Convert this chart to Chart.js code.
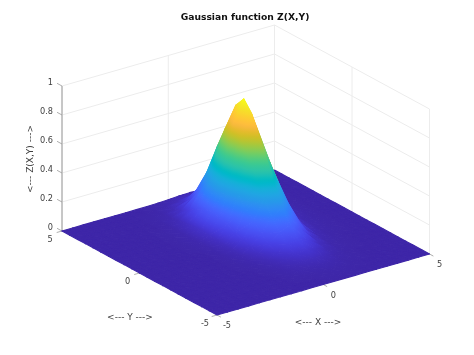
<!DOCTYPE html>
<html>
<head>
<meta charset="utf-8">
<script src="https://cdn.jsdelivr.net/npm/chart.js@4"></script>
<style>
  html, body { margin: 0; padding: 0; background: #fff; }
  canvas { display: block; }
</style>
</head>
<body>
<canvas id="grafico" width="474" height="355"></canvas>
<script>
// Values
const xValues = [-5, -4.5, -4, -3.5, -3, -2.5, -2, -1.5, -1, -0.5, 0, 0.5, 1, 1.5, 2, 2.5, 3, 3.5, 4, 4.5, 5];
const yValues = [-5, -4.5, -4, -3.5, -3, -2.5, -2, -1.5, -1, -0.5, 0, 0.5, 1, 1.5, 2, 2.5, 3, 3.5, 4, 4.5, 5];
const xTicks = [-5, 0, 5];
const yTicks = [-5, 0, 5];
const zTicks = [0, 0.2, 0.4, 0.6, 0.8, 1];

// one row per x value, one column per y value
const zValues = [
  [0,0,0,0,0,0,0,0,0,0,0,0,0,0,0,0,0,0,0,0,0],
  [0,0,0,0,0,0,0,0,0,0,0,0,0,0,0,0,0,0,0,0,0],
  [0,0,0,0,0,0,0,0,0,0,0,0,0,0,0,0,0,0,0,0,0],
  [0,0,0,0,0,0,0,0,0,0,0,0,0,0,0,0,0,0,0,0,0],
  [0,0,0,0,0,0,0,0,0,0,0,0,0,0,0,0,0,0,0,0,0],
  [0,0,0,0,0,0,0,0,0,0,0,0,0,0,0,0,0,0,0,0,0],
  [0,0,0,0,0,0,0,0,0,0,0,.001,.001,.001,.001,.001,0,0,0,0,0],
  [0,0,0,0,0,0,.001,.001,.002,.003,.004,.005,.006,.007,.006,.005,.003,.002,.001,0,0],
  [0,0,0,0,.001,.002,.004,.007,.011,.017,.023,.029,.035,.038,.035,.027,.017,.009,.004,.002,.001],
  [0,0,.001,.002,.004,.009,.016,.028,.044,.065,.089,.112,.136,.148,.136,.105,.068,.037,.017,.007,.002],
  [0,0,.001,.005,.012,.024,.044,.075,.118,.173,.236,.300,.361,.394,.361,.278,.180,.098,.045,.017,.005],
  [0,.001,.002,.008,.021,.043,.078,.134,.212,.311,.425,.538,.649,.708,.649,.500,.324,.176,.081,.031,.010],
  [0,.001,.003,.010,.026,.052,.095,.163,.258,.378,.516,.654,.789,.860,.789,.608,.394,.214,.098,.038,.012],
  [0,.001,.002,.007,.018,.036,.067,.114,.181,.265,.361,.458,.552,.602,.552,.426,.276,.150,.069,.027,.008],
  [0,0,.001,.002,.006,.013,.024,.041,.066,.098,.137,.178,.225,.258,.237,.182,.118,.064,.029,.011,.004],
  [0,0,0,.001,.001,.003,.005,.009,.015,.023,.032,.043,.058,.072,.071,.055,.035,.019,.009,.003,.001],
  [0,0,0,0,0,.001,.001,.002,.003,.005,.007,.009,.012,.015,.016,.012,.008,.004,.002,.001,0],
  [0,0,0,0,0,0,0,0,.001,.001,.002,.002,.003,.003,.003,.002,.002,.001,0,0,0],
  [0,0,0,0,0,0,0,0,0,0,0,0,0,0,0,0,0,0,0,0,0],
  [0,0,0,0,0,0,0,0,0,0,0,0,0,0,0,0,0,0,0,0,0],
  [0,0,0,0,0,0,0,0,0,0,0,0,0,0,0,0,0,0,0,0,0]
];

// parula colormap
const parula = [
  [.2422,.1504,.6603],[.2504,.1650,.7076],[.2578,.1818,.7511],[.2647,.1978,.7952],[.2706,.2147,.8364],[.2751,.2342,.8710],
  [.2783,.2559,.8991],[.2803,.2782,.9221],[.2813,.3006,.9414],[.2810,.3228,.9579],[.2795,.3447,.9717],[.2760,.3667,.9829],
  [.2699,.3892,.9906],[.2602,.4123,.9952],[.2440,.4358,.9988],[.2206,.4603,.9973],[.1963,.4847,.9892],[.1834,.5074,.9798],
  [.1786,.5289,.9682],[.1764,.5499,.9520],[.1687,.5703,.9359],[.1540,.5902,.9218],[.1460,.6091,.9079],[.1380,.6276,.8973],
  [.1248,.6459,.8883],[.1113,.6635,.8763],[.0952,.6798,.8598],[.0689,.6948,.8394],[.0297,.7082,.8163],[.0036,.7203,.7917],
  [.0067,.7312,.7660],[.0433,.7411,.7394],[.0964,.7500,.7120],[.1408,.7584,.6842],[.1717,.7670,.6554],[.1938,.7758,.6251],
  [.2161,.7843,.5923],[.2470,.7918,.5567],[.2906,.7973,.5188],[.3406,.8008,.4789],[.3909,.8029,.4354],[.4456,.8024,.3909],
  [.5044,.7993,.3480],[.5616,.7942,.3045],[.6174,.7876,.2612],[.6720,.7793,.2227],[.7242,.7698,.1910],[.7738,.7598,.1646],
  [.8203,.7498,.1535],[.8634,.7406,.1596],[.9035,.7330,.1774],[.9393,.7288,.2100],[.9728,.7298,.2394],[.9956,.7434,.2371],
  [.9970,.7659,.2199],[.9952,.7893,.2028],[.9892,.8136,.1885],[.9786,.8386,.1766],[.9676,.8639,.1643],[.9610,.8890,.1537],
  [.9597,.9135,.1423],[.9628,.9373,.1265],[.9691,.9606,.1064],[.9769,.9839,.0805]
];

const zPeak = Math.max(...zValues.flat());
const textColor = '#404040';
const gridColor = '#ececec';

// Orthographic view of the box: x=-5,y=-5,z=0 is the front corner
function proyectar(x, y, z) {
  const a = (x + 5) / 10, b = (y + 5) / 10;
  return { x: 217 + a * 212.5 - b * 155, y: 315 - a * 61 - b * 84 - z * 145 };
}

function colorEn(f) {
  const t = Math.min(1, Math.max(0, f)) * (parula.length - 1);
  const i = Math.min(parula.length - 2, Math.floor(t));
  const c = parula[i].map((v, k) => Math.round(255 * (v + (parula[i + 1][k] - v) * (t - i))));
  return `rgb(${c[0]},${c[1]},${c[2]})`;
}

// Linear gradient that follows z across one triangle of the surface
function pintura(chart, tri) {
  if (tri.paint) return tri.paint;
  const sx = chart.scales.x, sy = chart.scales.y;
  if (!sx || !sy) return colorEn(0);
  const p = tri.pts.map(q => ({ x: sx.getPixelForValue(q.x), y: sy.getPixelForValue(q.y), f: q.z / zPeak }));
  const fs = p.map(q => q.f);
  const fMin = Math.min(...fs), fMax = Math.max(...fs);
  const ax = p[1].x - p[0].x, ay = p[1].y - p[0].y, bx = p[2].x - p[0].x, by = p[2].y - p[0].y;
  const det = ax * by - ay * bx;
  // the scales have no size yet on the first pass
  if (!isFinite(det)) return colorEn(0);
  if (fMax - fMin < 0.001 || Math.abs(det) < 0.01) {
    tri.paint = colorEn((fMin + fMax) / 2);
    return tri.paint;
  }
  const d1 = p[1].f - p[0].f, d2 = p[2].f - p[0].f;
  const gx = (d1 * by - d2 * ay) / det, gy = (ax * d2 - bx * d1) / det;
  const g2 = gx * gx + gy * gy;
  const ini = p[fs.indexOf(fMin)];
  const k = (fMax - fMin) / g2;
  const grad = chart.ctx.createLinearGradient(ini.x, ini.y, ini.x + gx * k, ini.y + gy * k);
  grad.addColorStop(0, colorEn(fMin));
  for (let i = 0; i < parula.length; i++) {
    const f = i / (parula.length - 1);
    if (f > fMin && f < fMax) grad.addColorStop((f - fMin) / (fMax - fMin), colorEn(f));
  }
  grad.addColorStop(1, colorEn(fMax));
  tri.paint = grad;
  return grad;
}

function linea(a, b, color, ancho) {
  return { data: [a, b], showLine: true, fill: false, pointRadius: 0, borderColor: color, borderWidth: ancho };
}

const datasets = [];

// Back walls
zTicks.forEach(z => {
  datasets.push(linea(proyectar(-5, 5, z), proyectar(5, 5, z), gridColor, 1));
  datasets.push(linea(proyectar(5, 5, z), proyectar(5, -5, z), gridColor, 1));
});
xTicks.forEach(x => datasets.push(linea(proyectar(x, 5, 0), proyectar(x, 5, 1), gridColor, 1)));
yTicks.forEach(y => datasets.push(linea(proyectar(5, y, 0), proyectar(5, y, 1), gridColor, 1)));

// Axis and tick marks
datasets.push(linea(proyectar(-5, 5, 0), proyectar(-5, 5, 1), '#b4b4b4', 1.4));
zTicks.forEach(z => datasets.push(linea(proyectar(-5, 5, z), proyectar(-5, 5.32, z), '#999999', 0.8)));
xTicks.forEach(x => datasets.push(linea(proyectar(x, -5, 0), proyectar(x, -5.25, 0), '#999999', 0.8)));
yTicks.forEach(y => datasets.push(linea(proyectar(-5, y, 0), proyectar(-5.25, y, 0), '#999999', 0.8)));

// Surface, from the back corner to the front corner
for (let i = xValues.length - 2; i >= 0; i--) {
  for (let j = yValues.length - 2; j >= 0; j--) {
    const v = (a, b) => {
      const q = proyectar(xValues[a], yValues[b], zValues[a][b]);
      return { x: q.x, y: q.y, z: zValues[a][b] };
    };
    const tris = [[v(i + 1, j + 1), v(i + 1, j), v(i, j + 1)], [v(i + 1, j), v(i, j), v(i, j + 1)]];
    tris.forEach(pts => {
      const tri = { pts };
      datasets.push({
        data: [pts[0], pts[1], pts[2], pts[0]],
        showLine: true,
        fill: 'shape',
        pointRadius: 0,
        borderWidth: 1.1,
        borderJoinStyle: 'round',
        backgroundColor: ctx => pintura(ctx.chart, tri),
        borderColor: ctx => pintura(ctx.chart, tri)
      });
    });
  }
}

// index 0 is drawn last in Chart.js
datasets.reverse();

// Tick labels, axis labels and title
const textos = {
  id: 'textos',
  afterDraw(chart) {
    const { ctx, scales } = chart;
    const en = p => ({ x: scales.x.getPixelForValue(p.x), y: scales.y.getPixelForValue(p.y) });
    const escribir = (s, p, dx, dy, font, align) => {
      const q = en(p);
      ctx.font = font;
      ctx.textAlign = align || 'center';
      ctx.textBaseline = 'middle';
      ctx.fillStyle = textColor;
      ctx.fillText(s, q.x + dx, q.y + dy);
    };
    const chica = '8.2px "DejaVu Sans"', media = '9px "DejaVu Sans"';
    ctx.save();
    zTicks.forEach(z => escribir(String(z), proyectar(-5, 5, z), -9, -3.5, chica, 'right'));
    yTicks.forEach(y => escribir(String(y), proyectar(-5, y, 0), -12, 9, chica));
    xTicks.forEach(x => escribir(String(x), proyectar(x, -5, 0), 10, 11, chica));
    escribir('<--- Y --->', proyectar(-5, -5, 0), -87, 3, media);
    escribir('<--- X --->', proyectar(-5, -5, 0), 101, 8, media);
    ctx.font = 'bold 9.2px "DejaVu Sans"';
    ctx.textAlign = 'center';
    ctx.textBaseline = 'middle';
    ctx.fillStyle = '#111111';
    const t = en({ x: 245, y: 18 });
    ctx.fillText('Gaussian function Z(X,Y)', t.x, t.y);
    const l = en({ x: 31, y: 159 });
    ctx.translate(l.x, l.y);
    ctx.rotate(-Math.PI / 2);
    ctx.font = media;
    ctx.fillStyle = textColor;
    ctx.fillText('<--- Z(X,Y) --->', 0, 0);
    ctx.restore();
  }
};

new Chart(document.getElementById('grafico'), {
  type: 'scatter',
  data: { datasets },
  options: {
    responsive: false,
    animation: false,
    events: [],
    layout: { padding: 0 },
    plugins: { legend: { display: false }, tooltip: { enabled: false }, title: { display: false } },
    scales: {
      x: { type: 'linear', display: false, min: 0, max: 474 },
      y: { type: 'linear', display: false, min: 0, max: 355, reverse: true }
    }
  },
  plugins: [textos]
});
</script>
</body>
</html>
